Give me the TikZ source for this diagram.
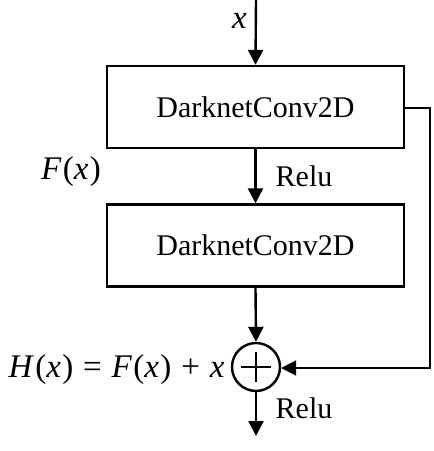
\documentclass[tikz,border=0pt]{standalone}
\usepackage{fontspec}
\setmainfont{Liberation Serif}
\usetikzlibrary{arrows.meta,calc}
\newcommand{\mv}[1]{\textit{#1}\kern0.04em}
\newcommand{\op}[1]{\kern0.3em#1\kern0.3em}
\begin{document}
\begin{tikzpicture}[x=1pt,y=-1pt,
  line width=2.4pt,
  conv/.style={draw, minimum width=297pt, minimum height=82pt, inner sep=0pt, font=\fontsize{30}{36}\selectfont},
  lbl/.style={inner sep=0pt, font=\fontsize{30}{36}\selectfont},
  mlbl/.style={inner sep=0pt, font=\fontsize{33}{38}\selectfont},
  arr/.style={-{Triangle[length=15pt,width=15pt]}},
  sumnode/.style={draw, circle, minimum size=48pt, inner sep=0pt}]
\useasboundingbox (0,0) rectangle (434,451);
\coordinate (in) at (256,0);
\node[conv] (c1) at (255.5,107) {DarknetConv2D};
\node[conv] (c2) at (255.5,245.5) {DarknetConv2D};
\node[sumnode] (s) at (256,367) {};
\draw[line width=2pt] ($(s.center)+(-15,0)$) -- ++(30,0);
\draw[line width=2pt] ($(s.center)+(0,-15)$) -- ++(0,30);
\coordinate (out) at (256,436);
\coordinate (r1) at (430,108);
\coordinate (r2) at (430,368);
\draw[arr] (in) -- (c1.north);
\draw[arr] (c1.south) -- (c2.north);
\draw[arr] (c2.south) -- (s.north);
\draw[arr] (s.south) -- (out);
\draw[arr] (c1.east |- r1) -- (r1) -- (r2) -- (s.east |- r2);
\node[mlbl] (xl) at (240,21) {\mv{x}};
\node[mlbl] (fl) at (71,172) {\mv{F}(\mv{x})};
\node[lbl] (re1) at (304,176) {Relu};
\node[lbl] (re2) at (304,408) {Relu};
\node[mlbl, anchor=east] (hl) at (227,370) {\mv{H}(\mv{x})\op{=}\mv{F}(\mv{x})\op{+}\mv{x}};
\end{tikzpicture}
\end{document}
